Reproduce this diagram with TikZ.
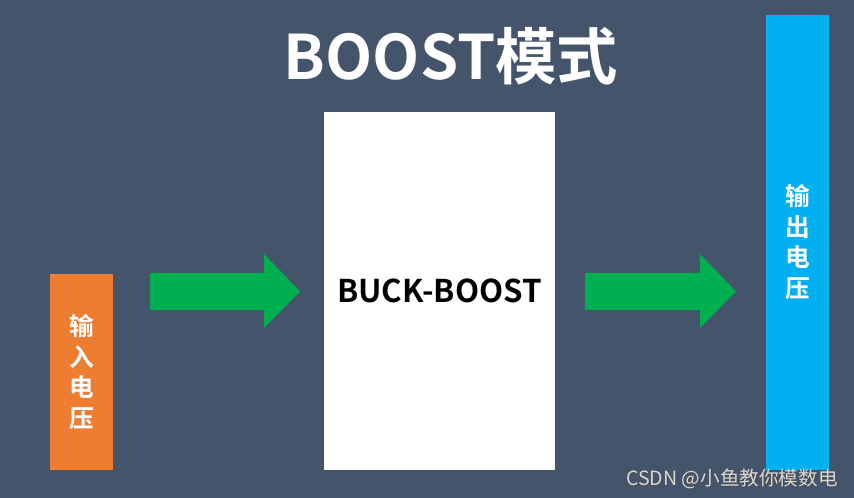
\documentclass[tikz,border=0pt]{standalone}
\usepackage{fontspec}
\setmainfont{Noto Sans CJK SC}[BoldFont=* Bold]
\definecolor{bgslate}{RGB}{68,84,106}
\definecolor{inorange}{RGB}{237,125,49}
\definecolor{flowgreen}{RGB}{0,176,80}
\definecolor{outblue}{RGB}{0,176,240}
\definecolor{markgray}{RGB}{215,215,215}
\tikzset{
  vlabel/.style={text=white, font=\bfseries\fontsize{18.5}{23}\selectfont, align=center, inner sep=0pt},
}
\begin{document}
\begin{tikzpicture}[x=0.75pt,y=0.75pt,yscale=-1,xscale=1]
%Shape: Background
\fill [bgslate] (0,0) rectangle (854,498);
\useasboundingbox (0,0) rectangle (854,498);

%Shape: Rectangle [id:input]
\draw [draw opacity=0, fill=inorange] (50,274) -- (113,274) -- (113,470) -- (50,470) -- cycle ;
%Shape: Rectangle [id:converter]
\draw [draw opacity=0, fill=white] (324,112) -- (555,112) -- (555,470) -- (324,470) -- cycle ;
%Shape: Rectangle [id:output]
\draw [draw opacity=0, fill=outblue] (766,15) -- (829,15) -- (829,470) -- (766,470) -- cycle ;

%Shape: Right Arrow [id:flowin]
\draw [draw opacity=0, fill=flowgreen] (150,273) -- (264,273) -- (264,254) -- (300,291.5) -- (264,328) -- (264,310) -- (150,310) -- cycle ;
%Shape: Right Arrow [id:flowout]
\draw [draw opacity=0, fill=flowgreen] (585,273) -- (700,273) -- (700,254) -- (736,291.5) -- (700,328) -- (700,310) -- (585,310) -- cycle ;

% Text Node
\draw (451,56) node (title) [text=white, font=\bfseries\fontsize{46}{48}\selectfont, inner sep=0pt] {BOOST模式};
% Text Node
\draw (439.5,291) node (buckboost) [text=black, font=\bfseries\fontsize{23.5}{26}\selectfont, inner sep=0pt] {BUCK-BOOST};
% Text Node
\draw (81.5,372) node (vin) [vlabel] {输\\入\\电\\压};
% Text Node
\draw (797.5,242) node (vout) [vlabel] {输\\出\\电\\压};
% Text Node
\draw (733,479.5) node [text=black!70, font=\fontsize{14.7}{16}\selectfont, inner sep=0pt] {CSDN @小鱼教你模数电};
\draw (732,478.5) node (mark) [text=markgray, font=\fontsize{14.7}{16}\selectfont, inner sep=0pt] {CSDN @小鱼教你模数电};
\end{tikzpicture}
\end{document}
